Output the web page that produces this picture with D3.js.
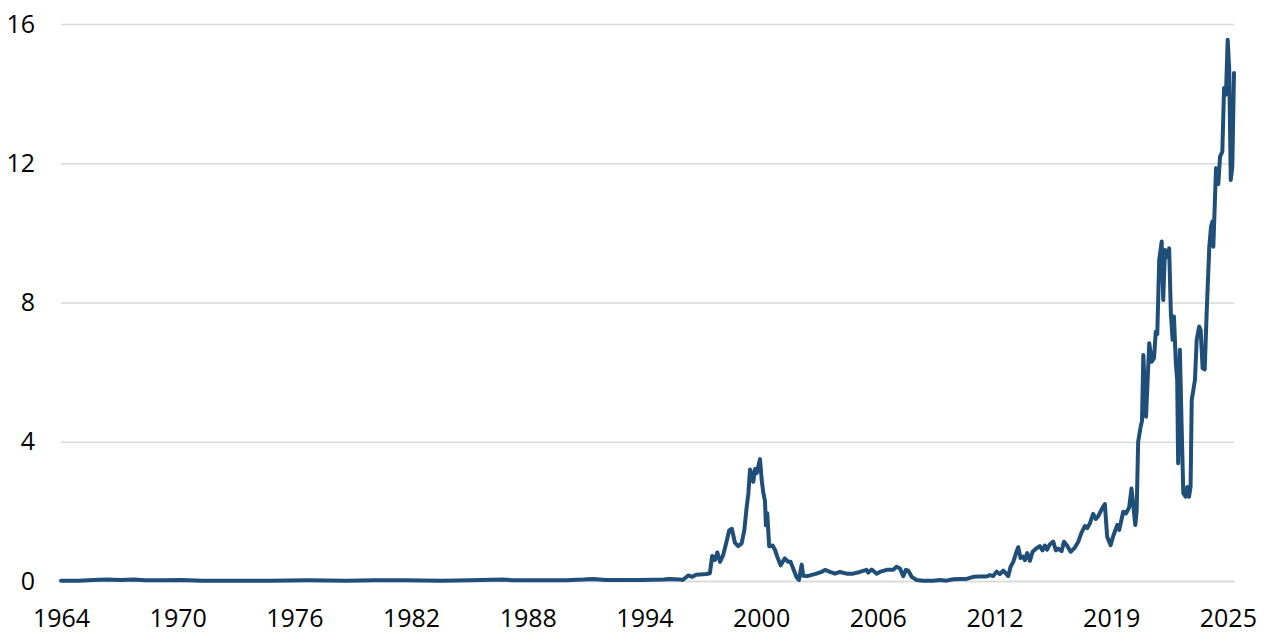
<!DOCTYPE html>
<html lang="en">

<head>
    <meta charset="UTF-8">
    <title>Chart</title>
    <script src="https://cdn.jsdelivr.net/npm/d3@7"></script>
    <style>
        body { margin: 0; background: #fff; }
        svg text { font-family: "Open Sans", "Noto Sans", sans-serif; fill: #000; }
    </style>
</head>

<body>
    <svg id="chart"></svg>
</body>

<script>
    // decimal years
    var years = [
        1964.1, 1965.0, 1965.8, 1966.5, 1967.2, 1967.9, 1968.5, 1969.5, 1970.4, 1971.5,
        1973.0, 1975.0, 1977.0, 1979.0, 1980.5, 1982.0, 1984.0, 1985.5, 1987.2, 1987.8,
        1989.0, 1990.5, 1991.4, 1991.9, 1992.6, 1993.3, 1994.4, 1995.6, 1995.9, 1996.5,
        1996.6, 1996.9, 1997.1, 1997.3, 1997.85, 1998.02, 1998.14, 1998.28, 1998.41, 1998.55,
        1998.72, 1998.9, 1999.03, 1999.17, 1999.33, 1999.5, 1999.68, 1999.82, 1999.94, 2000.03,
        2000.12, 2000.22, 2000.29, 2000.38, 2000.47, 2000.64, 2000.73, 2000.81, 2000.9, 2000.95,
        2001.02, 2001.12, 2001.3, 2001.42, 2001.54, 2001.72, 2001.94, 2002.12, 2002.24, 2002.38,
        2002.56, 2002.68, 2002.82, 2002.9, 2003.08, 2003.25, 2003.6, 2003.86, 2004.04, 2004.3,
        2004.56, 2004.82, 2005.17, 2005.51, 2005.86, 2006.21, 2006.3, 2006.48, 2006.74, 2006.91,
        2007.26, 2007.6, 2007.78, 2007.96, 2008.13, 2008.27, 2008.39, 2008.57, 2008.83, 2009.17,
        2009.7, 2010.05, 2010.39, 2010.74, 2011.09, 2011.44, 2011.79, 2012.14, 2012.49, 2012.66,
        2012.83, 2013.01, 2013.18, 2013.36, 2013.62, 2013.74, 2013.88, 2014.05, 2014.14, 2014.26,
        2014.4, 2014.49, 2014.61, 2014.75, 2014.89, 2015.1, 2015.27, 2015.41, 2015.53, 2015.65,
        2015.79, 2015.97, 2016.11, 2016.23, 2016.41, 2016.53, 2016.7, 2016.88, 2017.1, 2017.28,
        2017.45, 2017.63, 2017.75, 2017.89, 2018.06, 2018.2, 2018.32, 2018.5, 2018.67, 2018.79,
        2018.97, 2019.11, 2019.32, 2019.42, 2019.63, 2019.77, 2019.94, 2020.06, 2020.15, 2020.26,
        2020.33, 2020.41, 2020.54, 2020.61, 2020.68, 2020.82, 2020.99, 2021.12, 2021.24, 2021.33,
        2021.41, 2021.51, 2021.64, 2021.72, 2021.81, 2021.93, 2022.03, 2022.12, 2022.21, 2022.28,
        2022.38, 2022.45, 2022.5, 2022.59, 2022.68, 2022.77, 2022.89, 2022.98, 2023.07, 2023.15,
        2023.21, 2023.38, 2023.47, 2023.6, 2023.68, 2023.78, 2023.89, 2023.99, 2024.13, 2024.22,
        2024.3, 2024.34, 2024.48, 2024.6, 2024.69, 2024.81, 2024.9, 2025.0, 2025.09, 2025.17,
        2025.25, 2025.33, 2025.42
    ];

    var values = [
        0.01, 0.01, 0.03, 0.04, 0.03, 0.04, 0.02, 0.02, 0.03, 0.01,
        0.01, 0.01, 0.02, 0.01, 0.02, 0.02, 0.01, 0.02, 0.04, 0.02,
        0.02, 0.02, 0.04, 0.06, 0.03, 0.03, 0.03, 0.04, 0.06, 0.04,
        0.03, 0.16, 0.12, 0.18, 0.2, 0.22, 0.72, 0.6, 0.82, 0.55,
        0.75, 1.15, 1.45, 1.5, 1.1, 1.0, 1.08, 1.45, 2.1, 2.5,
        3.2, 3.0, 2.85, 3.22, 3.1, 3.5, 2.9, 2.55, 2.3, 1.6,
        1.95, 1.0, 1.02, 0.9, 0.7, 0.45, 0.65, 0.55, 0.55, 0.35,
        0.1, 0.03, 0.47, 0.15, 0.14, 0.16, 0.21, 0.26, 0.32, 0.26,
        0.21, 0.26, 0.21, 0.21, 0.26, 0.32, 0.24, 0.33, 0.21, 0.26,
        0.32, 0.32, 0.41, 0.36, 0.14, 0.32, 0.3, 0.12, 0.03, 0.01,
        0.01, 0.03, 0.01, 0.05, 0.06, 0.06, 0.12, 0.13, 0.13, 0.17,
        0.14, 0.27, 0.2, 0.3, 0.14, 0.41, 0.55, 0.84, 0.97, 0.66,
        0.7, 0.6, 0.8, 0.58, 0.84, 0.94, 1.0, 0.88, 1.02, 0.9,
        1.05, 1.13, 0.88, 0.93, 0.86, 1.13, 1.01, 0.84, 0.96, 1.13,
        1.39, 1.58, 1.52, 1.66, 1.93, 1.78, 1.86, 2.06, 2.21, 1.27,
        1.03, 1.3, 1.61, 1.47, 1.99, 1.94, 2.11, 2.66, 2.2, 1.61,
        2.0, 4.0, 4.43, 4.6, 6.49, 4.72, 6.83, 6.3, 6.4, 7.16,
        7.1, 9.22, 9.75, 8.07, 9.51, 9.3, 9.56, 7.69, 6.93, 7.6,
        6.26, 5.78, 3.38, 6.64, 4.5, 2.52, 2.42, 2.7, 2.42, 2.71,
        5.2, 5.78, 6.93, 7.31, 7.2, 6.11, 6.08, 7.69, 9.61, 10.18,
        10.33, 9.6, 11.86, 11.4, 12.19, 12.33, 14.16, 13.97, 15.55, 14.68,
        11.52, 11.9, 14.59
    ];

    // category labels sit at equal steps along the axis
    var tickYears = [1964.1, 1970.2, 1976.3, 1982.4, 1988.5, 1994.6, 2000.7, 2006.8, 2012.9, 2019.0, 2025.1];
    var tickLabels = ["1964", "1970", "1976", "1982", "1988", "1994", "2000", "2006", "2012", "2019", "2025"];
    var yTicks = [0, 4, 8, 12, 16];

    var width = 1270, height = 637;
    var margin = { top: 24, right: 36, bottom: 56, left: 61 };
    var innerW = width - margin.left - margin.right;
    var innerH = height - margin.top - margin.bottom;

    var svg = d3.select("#chart")
        .attr("width", width)
        .attr("height", height);

    var g = svg.append("g")
        .attr("transform", "translate(" + margin.left + "," + margin.top + ")");

    var x = d3.scaleLinear()
        .domain([1964.1, 2025.42])
        .range([0, innerW]);

    var y = d3.scaleLinear()
        .domain([0, 16])
        .range([innerH, 0]);

    // gridlines + y labels
    var yAxis = g.append("g")
        .call(d3.axisLeft(y).tickValues(yTicks).tickSize(-innerW).tickPadding(26).tickFormat(d3.format("d")));
    yAxis.select(".domain").remove();
    yAxis.selectAll(".tick line").attr("stroke", "#d9d9d9").attr("stroke-width", 1.3);
    yAxis.selectAll(".tick text").style("font-size", "25px");

    // x labels
    var xAxis = g.append("g")
        .attr("transform", "translate(0," + innerH + ")")
        .call(d3.axisBottom(x).tickValues(tickYears).tickSize(0).tickPadding(28)
            .tickFormat(function (d, i) { return tickLabels[i]; }));
    xAxis.select(".domain").attr("stroke", "#d9d9d9").attr("stroke-width", 1.3);
    xAxis.selectAll(".tick text").style("font-size", "25px");

    var data = years.map(function (yr, i) { return { year: yr, value: values[i] }; });

    var line = d3.line()
        .x(function (d) { return x(d.year); })
        .y(function (d) { return y(d.value); });

    g.append("path")
        .datum(data)
        .attr("fill", "none")
        .attr("stroke", "#1f4e79")
        .attr("stroke-width", 4)
        .attr("stroke-linejoin", "round")
        .attr("stroke-linecap", "round")
        .attr("d", line);
</script>

</html>
